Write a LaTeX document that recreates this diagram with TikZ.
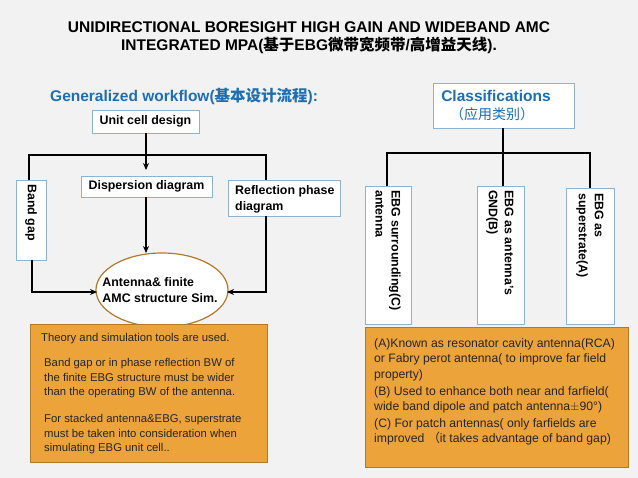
\documentclass[tikz,border=0pt]{standalone}
\usepackage{fontspec}
\setmainfont{Liberation Sans}
\newfontfamily\cjk{Noto Sans CJK SC}
\usetikzlibrary{shapes.geometric,arrows.meta}
\definecolor{bxb}{RGB}{140,180,210}
\definecolor{ttl}{RGB}{30,110,180}
\definecolor{org}{RGB}{236,163,58}
\definecolor{orgd}{RGB}{180,120,40}
\definecolor{bg}{RGB}{242,242,242}
\begin{document}
\begin{tikzpicture}[x=1pt,y=-1pt,
  bx/.style={draw=bxb,line width=0.9pt,fill=white},
  ln/.style={line width=1.6pt,black},
  ar/.style={ln,-{Stealth[length=7pt,width=6pt]}},
  t/.style={font=\fontsize{12.4}{14}\selectfont\bfseries,inner sep=0pt},
  vt/.style={t,rotate=-90,anchor=west,align=left,font=\fontsize{12.4}{16}\selectfont\bfseries},
  ob/.style={draw=orgd,line width=0.9pt,fill=org},
  ot/.style={font=\fontsize{11.3}{14.7}\selectfont,inner sep=0pt,align=left,anchor=north west,text=black!85},
  rt/.style={ot,font=\fontsize{12.2}{15.6}\selectfont}]
\fill[bg] (0,0) rectangle (638,478);
\node[font=\fontsize{15.5}{18}\selectfont\bfseries,align=center] (title) at (309,38)
  {UNIDIRECTIONAL BORESIGHT HIGH GAIN AND WIDEBAND AMC\\INTEGRATED MPA({\cjk 基于}EBG{\cjk 微带宽频带}/{\cjk 高增益天线}).};
\node[font=\fontsize{15.5}{17}\selectfont\bfseries,text=ttl,anchor=west,inner sep=0pt] (gw) at (50,96)
  {Generalized workflow({\cjk 基本设计流程}):};
% left workflow
\draw[bx] (92,110) rectangle (199,133); \node[t] (uc) at (145.5,121.5) {Unit cell design};
\draw[bx] (81,176) rectangle (212,197); \node[t] (dd) at (146.5,186.5) {Dispersion diagram};
\draw[bx] (228,180) rectangle (340,216);
\node[t,align=left,anchor=north west,font=\fontsize{12.4}{16}\selectfont\bfseries] (rp) at (235,185) {Reflection phase\\diagram};
\draw[bx] (16,180) rectangle (46,260);
\node[t,rotate=-90,anchor=west] (bg) at (31,184) {Band gap};
\node[ellipse,draw=orgd,line width=1.2pt,fill=white,minimum width=132pt,minimum height=74pt] (el) at (162,290) {};
\node[t,align=left,font=\fontsize{12.4}{16}\selectfont\bfseries] (elt) at (160,290) {Antenna\& finite\\AMC structure Sim.};
\coordinate (hl) at (29,155); \coordinate (hr) at (266,155);
\draw[ln] (29,180) -- (hl) -- (hr) -- (266,180);
\draw[ar] (146,133) -- (146,170);
\draw[ar] (146,197) -- (146,253);
\draw[ar] (32,260) -- (32,292) -- (97,292);
\draw[ar] (266,216) -- (266,292) -- (227,292);
\draw[ob] (30,324) rectangle (267,462);
\node[ot] (ol) at (41,333) {Theory and simulation tools are used.};
\node[ot] (ol2) at (44,358) {Band gap or in phase reflection BW of\\the finite EBG structure must be wider\\than the operating BW of the antenna.};
\node[ot] (ol3) at (44,414) {For stacked antenna\&EBG, superstrate\\must be taken into consideration when\\simulating EBG unit cell..};
% right
\draw[bx] (433,83) rectangle (574,128);
\node[font=\fontsize{15.5}{17}\selectfont\bfseries,text=ttl,inner sep=0pt] (cl) at (496,96) {Classifications};
\node[font=\fontsize{14}{16}\selectfont\cjk,text=ttl,inner sep=0pt] (cl2) at (492,114) {（应用类别）};
\draw[ln] (503,128) -- (503,153);
\draw[ln] (387,186) -- (387,153) -- (590,153) -- (590,188);
\draw[ln] (503,153) -- (503,186);
\draw[bx] (365,186) rectangle (411,324);
\draw[bx] (477,186) rectangle (524,324);
\draw[bx] (566,188) rectangle (614,324);
\node[vt] (c) at (388,190) {EBG surrounding(C)\\antenna};
\node[vt] (b) at (500,190) {EBG as antenna's\\GND(B)};
\node[vt] (a) at (590,193) {EBG as\\superstrate(A)};
\draw[ob] (365,327) rectangle (628,467);
\node[rt] (orr) at (374,338) {(A)Known as resonator cavity antenna(RCA)\\or Fabry perot antenna( to improve far field\\property)};
\node[rt] (orr2) at (374,386) {(B) Used to enhance both near and farfield(\\wide band dipole and patch antenna$\pm$90°)};
\node[rt] (orr3) at (374,418) {(C) For patch antennas( only farfields are\\improved\ {\cjk （}it takes advantage of band gap)};
\end{tikzpicture}
\end{document}
